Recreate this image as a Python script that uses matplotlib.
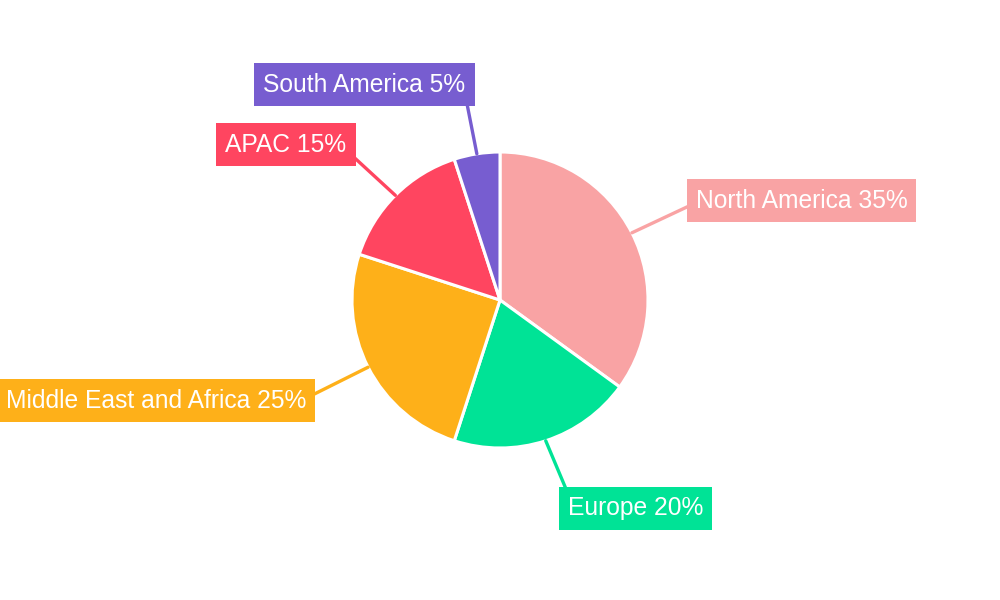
import numpy as np
import matplotlib.pyplot as plt
import matplotlib

matplotlib.rcParams['font.family'] = ['Liberation Sans', 'DejaVu Sans']

regions = ['North America', 'Europe', 'Middle East and Africa', 'APAC', 'South America']
shares = [35, 20, 25, 15, 5]
colors = ['#F9A3A4', '#00E396', '#FEB019', '#FF4560', '#775DD0']

# label box centres in pixels (from top-left) and where the leader meets the box
label_pos = [(801.5, 200.5), (635.5, 508.5), (156, 400.5), (286, 144.5), (364.5, 84.5)]
line_rel = [(0, 0.4), (0.01, 1), (1, 0.6), (1, 0.25), (1, 0)]

W, H = 1000, 600
cx, cy, r = 500, 300, 148

fig = plt.figure(figsize=(10, 6), dpi=100)
ax = fig.add_axes([0, 0, 1, 1])

wedges, _ = ax.pie(shares, colors=colors, startangle=90, counterclock=False,
                   center=(cx, cy), radius=r,
                   wedgeprops=dict(edgecolor='white', linewidth=2.2))

# pie() resets the limits, so set them afterwards
ax.set_xlim(0, W)
ax.set_ylim(0, H)
ax.set_aspect('equal')
ax.axis('off')

for w, name, val, col, (lx, ly), rel in zip(wedges, regions, shares, colors,
                                           label_pos, line_rel):
    ang = np.deg2rad((w.theta1 + w.theta2) / 2)
    px = cx + r * np.cos(ang)
    py = cy + r * np.sin(ang)
    ax.annotate(f'{name} {val}%', xy=(px, py), xytext=(lx, H - ly),
                ha='center', va='center', color='white', fontsize=17.7,
                bbox=dict(boxstyle='square,pad=0.37', fc=col, ec='none'),
                arrowprops=dict(arrowstyle='-', color=col, lw=2.4,
                                shrinkA=0, shrinkB=0, relpos=rel, patchA=None))

plt.savefig('out.png', dpi=100)
